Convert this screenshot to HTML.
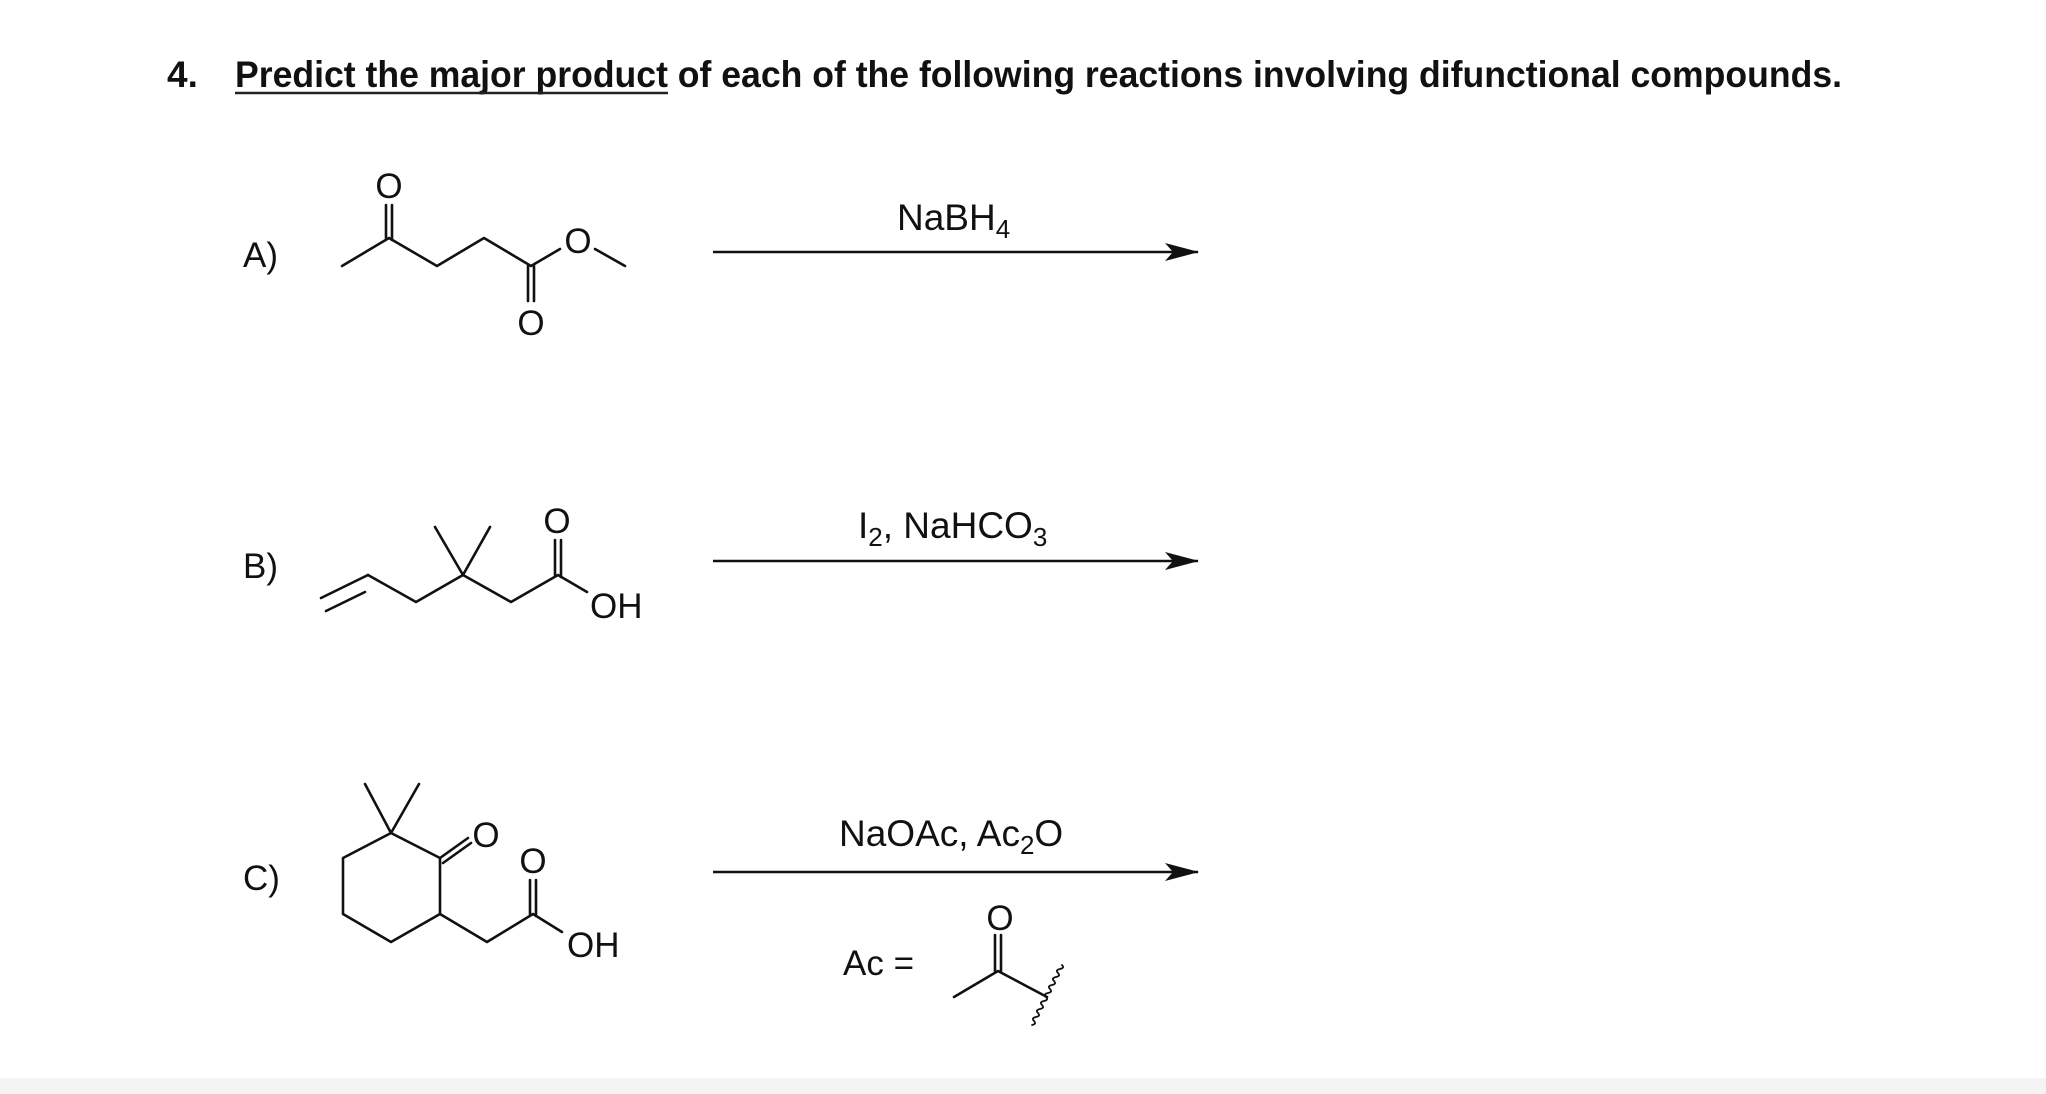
<!DOCTYPE html>
<html><head><meta charset="utf-8"><style>
html,body{margin:0;padding:0;background:#fff;}
svg{display:block}
text{font-family:"Liberation Sans",sans-serif;fill:#111}
</style></head><body>
<svg width="2046" height="1094" viewBox="0 0 2046 1094" xmlns="http://www.w3.org/2000/svg">
<rect x="0" y="0" width="2046" height="1094" fill="#fff"/>
<rect x="0" y="1078" width="2046" height="16" fill="#f4f4f4"/>
<defs>
<marker id="ah" markerWidth="34" markerHeight="18" refX="33" refY="9" orient="auto" markerUnits="userSpaceOnUse">
<path d="M0,0 L34,9 L0,18 L8,9 Z" fill="#111"/>
</marker>
</defs>
<!-- title -->
<text x="167" y="87" font-size="37" font-weight="bold">4.</text>
<text x="235" y="87" font-size="37" textLength="1607" lengthAdjust="spacingAndGlyphs" font-weight="bold">Predict the major product of each of the following reactions involving difunctional compounds.</text>
<line x1="235" y1="93" x2="668" y2="93" stroke="#222" stroke-width="2.5"/>

<g stroke="#111" stroke-width="2.6" fill="none" stroke-linecap="round" stroke-linejoin="round">
<!-- A -->
<polyline points="342,266 389,238 437,266 484,238 531,266 560,249"/>
<line x1="595" y1="249" x2="625" y2="266"/>
<line x1="386" y1="238" x2="386" y2="205"/><line x1="392" y1="240" x2="392" y2="205"/>
<line x1="528" y1="266" x2="528" y2="301"/><line x1="534" y1="266" x2="534" y2="301"/>
<!-- B -->
<line x1="321" y1="598" x2="368" y2="575"/><line x1="326" y1="611" x2="365" y2="592"/>
<polyline points="368,575 416,602 463,575 511,602 558,575 587,592"/>
<line x1="463" y1="575" x2="435" y2="527"/><line x1="463" y1="575" x2="490" y2="527"/>
<line x1="555" y1="575" x2="555" y2="540"/><line x1="561" y1="577" x2="561" y2="540"/>
<!-- C -->
<polygon points="391,833 440,858 440,914 391,942 343,914 343,858"/>
<line x1="391" y1="833" x2="365" y2="784"/><line x1="391" y1="833" x2="419" y2="784"/>
<line x1="440" y1="858" x2="468" y2="838"/><line x1="443" y1="863" x2="471" y2="843"/>
<polyline points="440,914 487,942 533,914 562,932"/>
<line x1="530" y1="914" x2="530" y2="880"/><line x1="536" y1="916" x2="536" y2="880"/>
<!-- Ac -->
<polyline points="954,997 998,971 1047,997"/>
<line x1="995" y1="971" x2="995" y2="935"/><line x1="1001" y1="971" x2="1001" y2="935"/>
<path d="M1032,1025 q5,-1 2,-4 q-3,-3 2,-4 q5,-1 2,-4 q-3,-3 2,-4 q5,-1 2,-4 q-3,-3 2,-4 q5,-1 2,-4 q-3,-3 2,-4 q5,-1 2,-4 q-3,-3 2,-4 q5,-1 2,-4 q-3,-3 2,-4 q5,-1 2,-4 q-3,-3 2,-4 q5,-1 2,-4" stroke-width="1.8"/>
</g>
<!-- atoms -->
<g font-size="35" text-anchor="middle">
<text x="389" y="198">O</text>
<text x="578" y="253">O</text>
<text x="531" y="335">O</text>
<text x="557" y="533">O</text>
<text x="486" y="847">O</text>
<text x="533" y="873">O</text>
<text x="1000" y="930">O</text>
</g>
<g font-size="35">
<text x="590" y="618">OH</text>
<text x="567" y="957">OH</text>
<text x="243" y="267">A)</text>
<text x="243" y="578">B)</text>
<text x="243" y="890">C)</text>
<text x="843" y="975">Ac =</text>
</g>
<!-- arrows -->
<g stroke="#111" stroke-width="2.6">
<line x1="713" y1="252" x2="1198" y2="252" marker-end="url(#ah)"/>
<line x1="713" y1="561" x2="1198" y2="561" marker-end="url(#ah)"/>
<line x1="713" y1="872" x2="1198" y2="872" marker-end="url(#ah)"/>
</g>
<g font-size="37">
<text x="897" y="230">NaBH<tspan font-size="26" dy="8">4</tspan></text>
<text x="858" y="538">I<tspan font-size="26" dy="8">2</tspan><tspan dy="-8">, NaHCO</tspan><tspan font-size="26" dy="8">3</tspan></text>
<text x="839" y="846">NaOAc, Ac<tspan font-size="26" dy="8">2</tspan><tspan dy="-8">O</tspan></text>
</g>
</svg>
</body></html>
